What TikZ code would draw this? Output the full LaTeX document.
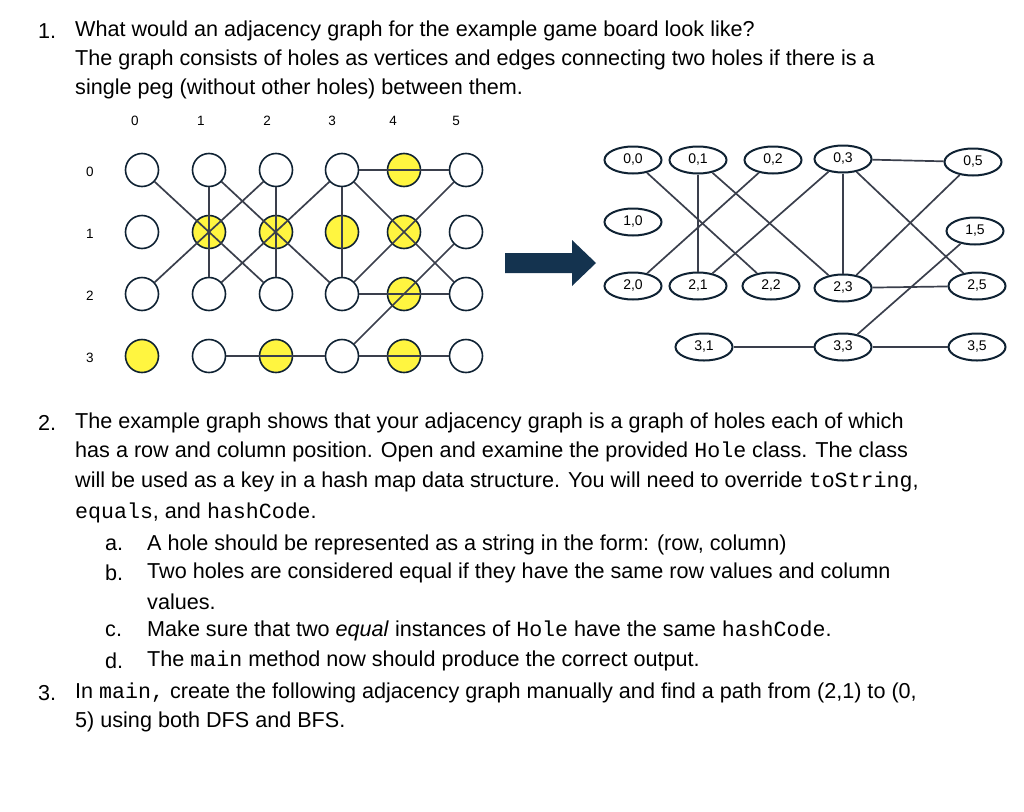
\documentclass[tikz,border=0pt]{standalone}
\usepackage{fontspec}
\usetikzlibrary{shapes.geometric}
\setmainfont{Liberation Sans}
\newfontfamily\mono{Liberation Mono}
\newcommand{\cd}[1]{{\mono #1}}
\definecolor{edc}{HTML}{3A3F4C}
\definecolor{bdc}{HTML}{0F2233}
\definecolor{arc}{HTML}{14334F}
\begin{document}
\begin{tikzpicture}[x=1pt,y=-1pt,
  txt/.style={anchor=west,inner sep=0pt,font=\fontsize{21.6}{24}\selectfont},
  lab/.style={inner sep=0pt,font=\fontsize{13.5}{15}\selectfont},
  hole/.style={circle,draw=bdc,line width=1.6pt,minimum size=33pt,inner sep=0pt,fill=white},
  peg/.style={hole,fill=yellow!75},
  vx/.style={ellipse,draw=bdc,line width=2pt,minimum width=57pt,minimum height=27pt,inner sep=0pt,fill=white,font=\fontsize{14}{16}\selectfont},
  ed/.style={draw=edc,line width=1.7pt}]
\useasboundingbox (0,0) rectangle (1024,811);
% text
\node[txt] at (38,31) {1.};
\node[txt] at (75,31) {What would an adjacency graph for the example game board look like?};
\node[txt] at (75,60) {The graph consists of holes as vertices and edges connecting two holes if there is a};
\node[txt] at (75,89) {single peg (without other holes) between them.};
\node[txt] at (38,423) {2.};
\node[txt] at (75,423) {The example graph shows that your adjacency graph is a graph of holes each of which};
\node[txt] at (75,452) {has a row and column position. Open and examine the provided \cd{Hole} class. The class};
\node[txt] at (75,482) {will be used as a key in a hash map data structure. You will need to override \cd{toString},};
\node[txt] at (75,513) {\cd{equals}, and \cd{hashCode}.};
\node[txt] at (105,545) {a.};
\node[txt] at (147,545) {A hole should be represented as a string in the form: (row, column)};
\node[txt] at (105,573) {b.};
\node[txt] at (147,573) {Two holes are considered equal if they have the same row values and column};
\node[txt] at (147,602) {values.};
\node[txt] at (105,631) {c.};
\node[txt] at (147,631) {Make sure that two \emph{equal} instances of \cd{Hole} have the same \cd{hashCode}.};
\node[txt] at (105,661) {d.};
\node[txt] at (147,661) {The \cd{main} method now should produce the correct output.};
\node[txt] at (38,693) {3.};
\node[txt] at (75,693) {In \cd{main,} create the following adjacency graph manually and find a path from (2,1) to (0,};
\node[txt] at (75,722) {5) using both DFS and BFS.};
% labels
\foreach \c/\x in {0/135,1/201,2/267,3/332,4/393,5/456} \node[lab] (cl\c) at (\x,121) {\c};
\foreach \r/\y in {0/172,1/234,2/296,3/358} \node[lab] (rl\r) at (90,\y) {\r};
% board
\foreach \c/\x in {0/142,1/209,2/276,3/342,4/404,5/466}
 \foreach \r/\y in {0/170,1/232,2/294,3/356} \coordinate (p\r\c) at (\x,\y);
\foreach \n in {00,01,02,03,05,10,15,20,21,22,23,25,31,33,35} \node[hole] (h\n) at (p\n) {};
\foreach \n in {04,11,12,13,14,24,30,32,34} \node[peg] (h\n) at (p\n) {};
\foreach \a/\b in {00/22,01/21,01/23,02/20,02/22,03/21,03/23,03/05,03/25,05/23,15/33,23/25,31/33,33/35}
  \draw[ed] (h\a) -- (h\b);
% arrow
\fill[arc] (505,253) -- (572,253) -- (572,240) -- (596,263) -- (572,286) -- (572,273) -- (505,273) -- cycle;
% right graph
\node[vx] (g00) at (633,160) {0,0};
\node[vx] (g01) at (698,160) {0,1};
\node[vx] (g02) at (773,160) {0,2};
\node[vx] (g03) at (843,159) {0,3};
\node[vx] (g05) at (973,162) {0,5};
\node[vx] (g10) at (633,222) {1,0};
\node[vx] (g15) at (975,231) {1,5};
\node[vx] (g20) at (633,286) {2,0};
\node[vx] (g21) at (698,286) {2,1};
\node[vx] (g22) at (771,286) {2,2};
\node[vx] (g23) at (843,288) {2,3};
\node[vx] (g25) at (977,286) {2,5};
\node[vx] (g31) at (704,347) {3,1};
\node[vx] (g33) at (843,347) {3,3};
\node[vx] (g35) at (977,347) {3,5};
\foreach \a/\b in {00/22,01/21,01/23,02/20,03/21,03/23,03/05,03/25,05/23,15/33,23/25,31/33,33/35}
  \draw[ed] (g\a) -- (g\b);
\end{tikzpicture}
\end{document}
